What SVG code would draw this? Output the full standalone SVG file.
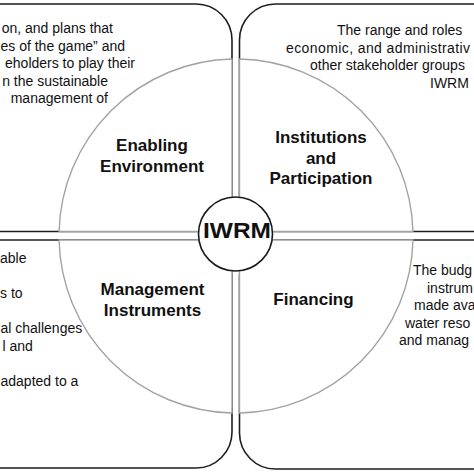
<svg xmlns="http://www.w3.org/2000/svg" width="474" height="474" viewBox="0 0 474 474">
<style>
.quad{fill:#fff;stroke:#1e1e1e;stroke-width:1.6}
.sector{fill:#fff;stroke:#a3a3a3;stroke-width:1.4}
.hub{fill:#fff;stroke:#1a1a1a;stroke-width:1.6}
.label{font-family:"Liberation Sans",Arial,sans-serif;font-weight:bold;font-size:17px;fill:#111;text-anchor:middle}
.body{font-family:"Liberation Sans",Arial,sans-serif;font-size:14px;fill:#111}
.end{text-anchor:end}
.hubtext{font-family:"Liberation Sans",Arial,sans-serif;font-weight:bold;font-size:22px;fill:#111;text-anchor:middle}
</style>
<rect width="474" height="474" fill="#fff"/>
<g id="enabling-environment">
<rect class="quad" x="-40" y="4" width="272" height="227.5" rx="36"/>
<path class="sector" d="M232 231.5 L232 59.05 A177 177 0 0 0 59.06 231.5 Z"/>
<text class="label" x="152" y="151">Enabling</text>
<text class="label" x="152" y="172">Environment</text>
<text class="body end" x="113" y="33">on, and plans that</text>
<text class="body end" x="125" y="50.5">es of the game” and</text>
<text class="body end" x="135" y="68">eholders to play their</text>
<text class="body end" x="108" y="85.5">n the sustainable</text>
<text class="body end" x="108" y="103">management of</text>
</g>
<g id="institutions-participation">
<rect class="quad" x="239.5" y="4" width="280" height="227.5" rx="36"/>
<path class="sector" d="M239.5 231.5 L239.5 59.03 A177 177 0 0 1 412.94 231.5 Z"/>
<text class="label" x="321" y="143">Institutions</text>
<text class="label" x="321" y="163.5">and</text>
<text class="label" x="321" y="184">Participation</text>
<text class="body" x="337" y="35">The range and roles</text>
<text class="body" x="286" y="52.5" textLength="184" lengthAdjust="spacing">economic, and administrativ</text>
<text class="body" x="310" y="70">other stakeholder groups</text>
<text class="body" x="430" y="87.5">IWRM</text>
</g>
<g id="management-instruments">
<rect class="quad" x="-40" y="240" width="272" height="228" rx="36"/>
<path class="sector" d="M232 240 L59.05 240 A177 177 0 0 0 232 412.95 Z"/>
<text class="label" x="152.5" y="295">Management</text>
<text class="label" x="152.5" y="315.5">Instruments</text>
<text class="body" x="0" y="263">able</text>
<text class="body" x="0" y="298">s to</text>
<text class="body" x="0.5" y="333">al challenges</text>
<text class="body" x="2.5" y="350.5">l and</text>
<text class="body" x="0.5" y="385.5">adapted to a</text>
</g>
<g id="financing">
<rect class="quad" x="239.5" y="240" width="280" height="229" rx="36"/>
<path class="sector" d="M239.5 240 L239.5 412.97 A177 177 0 0 0 412.97 240 Z"/>
<text class="label" x="313.5" y="305">Financing</text>
<text class="body" x="413" y="275">The budg</text>
<text class="body" x="427" y="292.5">instrum</text>
<text class="body" x="414" y="310">made ava</text>
<text class="body" x="405" y="327.5">water reso</text>
<text class="body" x="399" y="345">and manag</text>
</g>
<g id="connectors"></g>
<g id="iwrm">
<circle class="hub" cx="235.5" cy="234" r="37"/>
<text class="hubtext" x="237" y="237.5" textLength="68" lengthAdjust="spacingAndGlyphs">IWRM</text>
</g>
</svg>
